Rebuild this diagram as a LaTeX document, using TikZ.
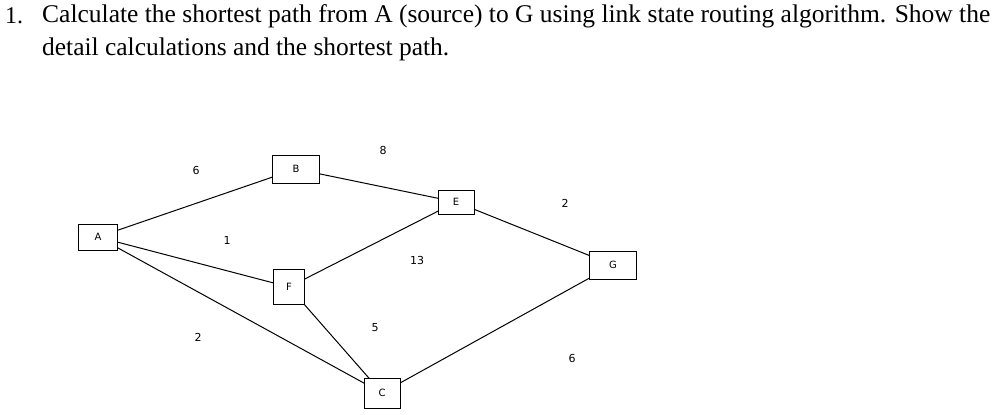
\documentclass[tikz,border=0pt]{standalone}
\usepackage{fontspec}
\setmainfont{Liberation Serif}
\newfontfamily\lab{DejaVu Sans}
\begin{document}
\begin{tikzpicture}[x=1pt,y=-1pt,
  box/.style={draw,fill=white,line width=1pt,inner sep=0pt,font=\lab\fontsize{10}{12}\selectfont},
  edge/.style={line width=1pt},
  wt/.style={font=\lab\fontsize{11}{13}\selectfont},
  ttl/.style={anchor=west,inner sep=0pt,font=\fontsize{24}{28}\selectfont}]
\useasboundingbox (0,0) rectangle (996,415);
\node[ttl] (n1) at (5,16) {1.};
\node[ttl,xscale=1.0] (t1) at (42,16) {\resizebox{948pt}{!}{Calculate the shortest path from A (source) to G using link state routing algorithm. Show the}};
\node[ttl] (t2) at (42,49) {\resizebox{407pt}{!}{detail calculations and the shortest path.}};
\coordinate (pA) at (98,237);
\coordinate (pB) at (296,169);
\coordinate (pE) at (456,202);
\coordinate (pG) at (613,265);
\coordinate (pF) at (289,287);
\coordinate (pC) at (382,393);
\draw[edge] (pA) -- (pB) (pA) -- (pF) (pA) -- (pC) (pB) -- (pE) (pF) -- (pE) (pF) -- (pC) (pE) -- (pG) (pC) -- (pG);
\node[box,minimum width=39pt,minimum height=26pt] (A) at (pA) {A};
\node[box,minimum width=47pt,minimum height=28pt] (B) at (pB) {B};
\node[box,minimum width=36pt,minimum height=24pt] (E) at (pE) {E};
\node[box,minimum width=47pt,minimum height=28pt] (G) at (pG) {G};
\node[box,minimum width=31pt,minimum height=35pt] (F) at (pF) {F};
\node[box,minimum width=36pt,minimum height=30pt] (C) at (pC) {C};
\node[wt] (w1) at (196,170) {6};
\node[wt] (w2) at (227,240) {1};
\node[wt] (w3) at (198,337) {2};
\node[wt] (w4) at (383,150) {8};
\node[wt] (w5) at (417,260) {13};
\node[wt] (w6) at (375,328) {5};
\node[wt] (w7) at (565,203) {2};
\node[wt] (w8) at (572,358) {6};
\end{tikzpicture}
\end{document}
